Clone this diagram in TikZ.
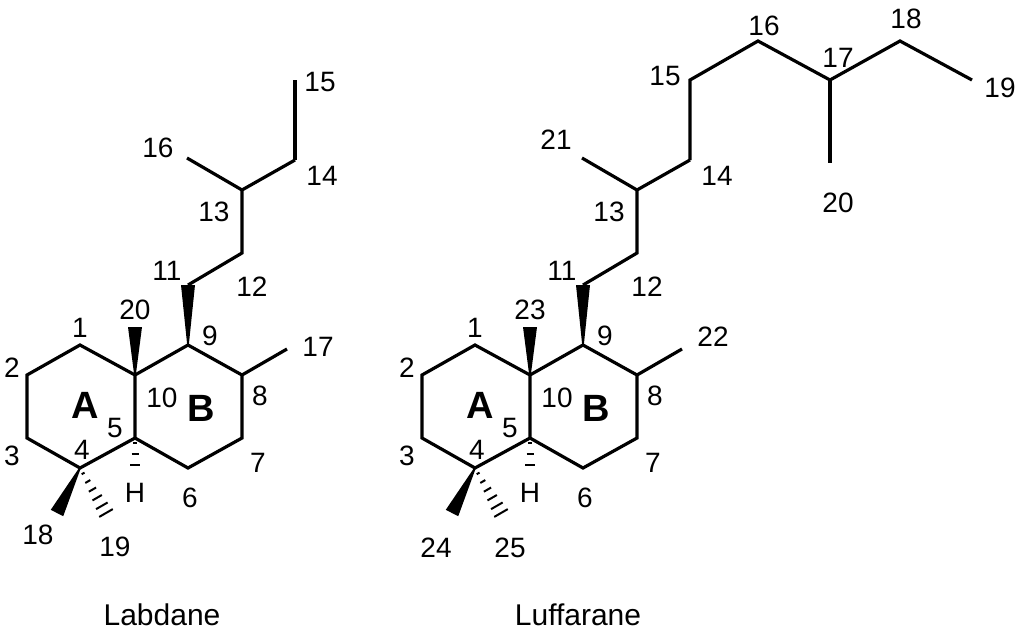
\documentclass[tikz,border=0pt]{standalone}
\usepackage{fontspec}
\setmainfont{Liberation Sans}
\usetikzlibrary{calc}
\newcommand\wedgeb[2]{\fill ($(#1)!0.8pt!90:(#2)$) -- ($(#1)!0.8pt!-90:(#2)$) -- ($(#2)!7pt!90:(#1)$) -- ($(#2)!7pt!-90:(#1)$) -- cycle;}
\newcommand\hashb[2]{\foreach \t in {0.12,0.3,0.48,0.66,0.84,1.0}{\path ($(#1)!\t!(#2)$) coordinate (hp); \pgfmathsetmacro\hw{\t*7+0.8}\draw[line width=2pt] ($(hp)!\hw pt!90:(#1)$) -- ($(hp)!\hw pt!-90:(#1)$);}}
\newcommand\hashs[2]{\foreach \t in {0.15,0.5,0.85}{\path ($(#1)!\t!(#2)$) coordinate (hp); \pgfmathsetmacro\hw{\t*4+1.5}\draw[line width=2.2pt] ($(hp)!\hw pt!90:(#1)$) -- ($(hp)!\hw pt!-90:(#1)$);}}
\tikzset{bond/.style={line width=3.2pt,line join=miter,line cap=butt},lab/.style={font=\fontsize{28}{28}\selectfont,inner sep=0pt},ring/.style={font=\fontsize{38}{38}\selectfont\bfseries,inner sep=0pt},title/.style={font=\fontsize{30}{30}\selectfont,inner sep=0pt}}
\begin{document}
\begin{tikzpicture}[x=1pt,y=-1pt]
\useasboundingbox (0,0) rectangle (1024,633);
\foreach \dx/\p in {0/a,395/b}{
\begin{scope}[xshift=\dx]
\coordinate (\p1) at (80,345); \coordinate (\p2) at (27,375); \coordinate (\p3) at (27,438);
\coordinate (\p4) at (80,468); \coordinate (\p5) at (135,438); \coordinate (\p10) at (135,375);
\coordinate (\p9) at (188,345); \coordinate (\p8) at (242,375); \coordinate (\p7) at (242,438);
\coordinate (\p6) at (188,468); \coordinate (\p11) at (188,285); \coordinate (\p12) at (242,253);
\coordinate (\p13) at (242,190); \coordinate (\p14) at (295,160); \coordinate (\p15) at (295,80);
\coordinate (\p16) at (187,158); \coordinate (\p17) at (287,349);
\coordinate (\p18) at (57,513); \coordinate (\p19) at (106,513); \coordinate (\p20) at (135,327);
\coordinate (\p h) at (135,470);
\draw[bond] (\p10) -- (\p1) -- (\p2) -- (\p3) -- (\p4) -- (\p5) -- (\p10) -- (\p9) -- (\p8) -- (\p7) -- (\p6) -- (\p5);
\draw[bond] (\p8) -- (\p17);
\draw[bond] (\p11) -- (\p12) -- (\p13) -- (\p14);
\draw[bond] (\p13) -- (\p16);
\wedgeb{\p10}{\p20}
\wedgeb{\p9}{\p11}
\wedgeb{\p4}{\p18}
\hashb{\p4}{\p19}
\hashs{\p5}{\p h}
\node[lab] (H\p) at (135,493) {H};
\node[ring] (A\p) at (85,405) {A};
\node[ring] (B\p) at (201,408) {B};
\node[lab] (l1\p) at (80,328) {1};
\node[lab] (l2\p) at (12,368) {2};
\node[lab] (l3\p) at (12,456) {3};
\node[lab] (l4\p) at (82,450) {4};
\node[lab] (l5\p) at (115,428) {5};
\node[lab] (l10\p) at (162,398) {10};
\node[lab] (l9\p) at (210,336) {9};
\node[lab] (l8\p) at (260,396) {8};
\node[lab] (l7\p) at (258,463) {7};
\node[lab] (l6\p) at (190,498) {6};
\node[lab] (l11\p) at (167,271) {11};
\node[lab] (l12\p) at (252,287) {12};
\node[lab] (l13\p) at (214,212) {13};
\node[lab] (l14\p) at (322,176) {14};
\end{scope}}
% Labdane specific
\draw[bond] (a14) -- (a15);
\node[lab] (la15) at (320,82) {15};
\node[lab] (la16) at (158,148) {16};
\node[lab] (la17) at (318,347) {17};
\node[lab] (la18) at (38,535) {18};
\node[lab] (la19) at (115,547) {19};
\node[lab] (la20) at (135,310) {20};
\node[title] (tl) at (162,615) {Labdane};
% Luffarane specific
\coordinate (c15) at (690,80); \coordinate (c16) at (758,41); \coordinate (c17) at (830,80);
\coordinate (c18) at (900,41); \coordinate (c19) at (972,80); \coordinate (c20) at (830,163);
\draw[bond] (b14) -- (c15) -- (c16) -- (c17) -- (c18) -- (c19);
\draw[bond] (c17) -- (c20);
\node[lab] (lb15) at (665,76) {15};
\node[lab] (lb16) at (764,26) {16};
\node[lab] (lb17) at (838,58) {17};
\node[lab] (lb18) at (906,19) {18};
\node[lab] (lb19) at (1000,88) {19};
\node[lab] (lb20) at (838,203) {20};
\node[lab] (lb21) at (556,140) {21};
\node[lab] (lb22) at (713,337) {22};
\node[lab] (lb23) at (530,310) {23};
\node[lab] (lb24) at (436,548) {24};
\node[lab] (lb25) at (510,548) {25};
\node[title] (tr) at (578,615) {Luffarane};
\end{tikzpicture}
\end{document}
